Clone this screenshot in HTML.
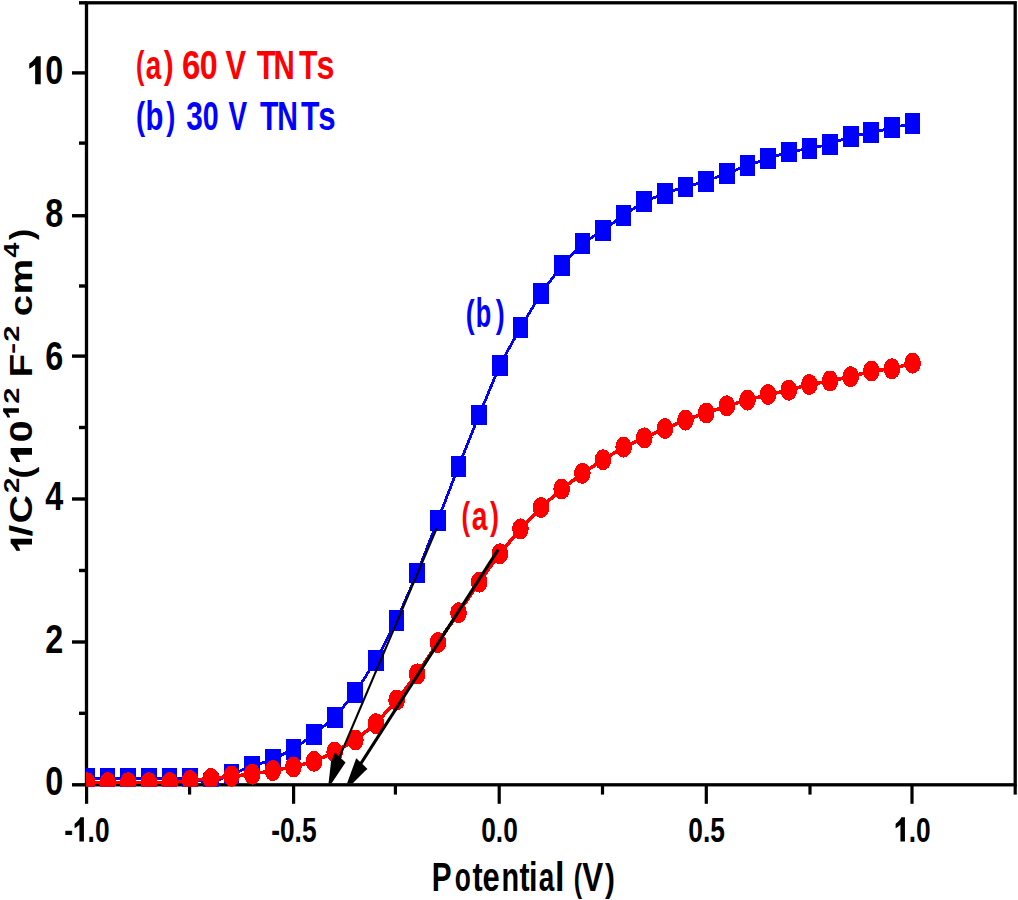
<!DOCTYPE html>
<html><head><meta charset="utf-8"><style>
html,body{margin:0;padding:0;background:#fff;}
body{width:1018px;height:900px;overflow:hidden;}
svg{display:block;}
</style></head><body>
<svg width="1018" height="900" viewBox="0 0 1018 900">
<rect width="1018" height="900" fill="#fff"/>
<g stroke="#000" fill="none">
<rect x="86.5" y="2.8" width="928.7" height="782.0" stroke-width="3.3"/>
<line x1="72.00" y1="784.80" x2="86.5" y2="784.80" stroke-width="3.4"/>
<line x1="79.00" y1="713.30" x2="86.5" y2="713.30" stroke-width="3.4"/>
<line x1="72.00" y1="642.00" x2="86.5" y2="642.00" stroke-width="3.4"/>
<line x1="79.00" y1="570.50" x2="86.5" y2="570.50" stroke-width="3.4"/>
<line x1="72.00" y1="499.00" x2="86.5" y2="499.00" stroke-width="3.4"/>
<line x1="79.00" y1="427.50" x2="86.5" y2="427.50" stroke-width="3.4"/>
<line x1="72.00" y1="356.10" x2="86.5" y2="356.10" stroke-width="3.4"/>
<line x1="79.00" y1="286.00" x2="86.5" y2="286.00" stroke-width="3.4"/>
<line x1="72.00" y1="215.75" x2="86.5" y2="215.75" stroke-width="3.4"/>
<line x1="79.00" y1="143.10" x2="86.5" y2="143.10" stroke-width="3.4"/>
<line x1="72.00" y1="72.90" x2="86.5" y2="72.90" stroke-width="3.4"/>
<line x1="79.00" y1="2.80" x2="86.5" y2="2.80" stroke-width="3.4"/>
<line x1="86.60" y1="784.8" x2="86.60" y2="803.80" stroke-width="3.2"/>
<line x1="189.60" y1="784.8" x2="189.60" y2="794.60" stroke-width="3.2"/>
<line x1="293.60" y1="784.8" x2="293.60" y2="803.80" stroke-width="3.2"/>
<line x1="395.40" y1="784.8" x2="395.40" y2="794.60" stroke-width="3.2"/>
<line x1="499.20" y1="784.8" x2="499.20" y2="803.80" stroke-width="3.2"/>
<line x1="602.50" y1="784.8" x2="602.50" y2="794.60" stroke-width="3.2"/>
<line x1="706.30" y1="784.8" x2="706.30" y2="803.80" stroke-width="3.2"/>
<line x1="810.00" y1="784.8" x2="810.00" y2="794.60" stroke-width="3.2"/>
<line x1="912.00" y1="784.8" x2="912.00" y2="803.80" stroke-width="3.2"/>
<line x1="1015.20" y1="784.8" x2="1015.20" y2="794.60" stroke-width="3.2"/>
</g>
<defs><clipPath id="pc"><rect x="86" y="0" width="930" height="786.8"/></clipPath></defs>
<g clip-path="url(#pc)" shape-rendering="crispEdges">
<polyline points="87.00,778.40 107.64,778.40 128.28,778.40 148.92,778.40 169.56,778.40 190.20,778.40 210.84,783.38 231.48,774.13 252.12,766.31 272.76,759.20 293.40,749.25 314.04,734.32 334.68,717.25 355.32,692.37 375.96,660.38 396.60,620.56 417.24,572.92 437.88,520.31 458.52,466.27 479.16,415.08 499.80,365.31 520.44,327.63 541.08,293.50 561.72,265.77 582.36,243.73 603.00,230.22 623.64,215.29 644.28,201.78 664.92,193.25 685.56,186.85 706.20,181.16 726.84,173.34 747.48,165.52 768.12,158.41 788.76,152.01 809.40,148.46 830.04,144.19 850.68,136.37 871.32,132.81 891.96,127.84 912.60,123.57" fill="none" stroke="#0000ff" stroke-width="2.8"/>
<rect x="79.15" y="768.05" width="15.7" height="20.7" fill="#0000ff"/>
<rect x="99.79" y="768.05" width="15.7" height="20.7" fill="#0000ff"/>
<rect x="120.43" y="768.05" width="15.7" height="20.7" fill="#0000ff"/>
<rect x="141.07" y="768.05" width="15.7" height="20.7" fill="#0000ff"/>
<rect x="161.71" y="768.05" width="15.7" height="20.7" fill="#0000ff"/>
<rect x="182.35" y="768.05" width="15.7" height="20.7" fill="#0000ff"/>
<rect x="202.99" y="773.03" width="15.7" height="20.7" fill="#0000ff"/>
<rect x="223.63" y="763.78" width="15.7" height="20.7" fill="#0000ff"/>
<rect x="244.27" y="755.96" width="15.7" height="20.7" fill="#0000ff"/>
<rect x="264.91" y="748.85" width="15.7" height="20.7" fill="#0000ff"/>
<rect x="285.55" y="738.90" width="15.7" height="20.7" fill="#0000ff"/>
<rect x="306.19" y="723.97" width="15.7" height="20.7" fill="#0000ff"/>
<rect x="326.83" y="706.90" width="15.7" height="20.7" fill="#0000ff"/>
<rect x="347.47" y="682.02" width="15.7" height="20.7" fill="#0000ff"/>
<rect x="368.11" y="650.02" width="15.7" height="20.7" fill="#0000ff"/>
<rect x="388.75" y="610.21" width="15.7" height="20.7" fill="#0000ff"/>
<rect x="409.39" y="562.57" width="15.7" height="20.7" fill="#0000ff"/>
<rect x="430.03" y="509.96" width="15.7" height="20.7" fill="#0000ff"/>
<rect x="450.67" y="455.92" width="15.7" height="20.7" fill="#0000ff"/>
<rect x="471.31" y="404.73" width="15.7" height="20.7" fill="#0000ff"/>
<rect x="491.95" y="354.96" width="15.7" height="20.7" fill="#0000ff"/>
<rect x="512.59" y="317.28" width="15.7" height="20.7" fill="#0000ff"/>
<rect x="533.23" y="283.15" width="15.7" height="20.7" fill="#0000ff"/>
<rect x="553.87" y="255.42" width="15.7" height="20.7" fill="#0000ff"/>
<rect x="574.51" y="233.38" width="15.7" height="20.7" fill="#0000ff"/>
<rect x="595.15" y="219.87" width="15.7" height="20.7" fill="#0000ff"/>
<rect x="615.79" y="204.94" width="15.7" height="20.7" fill="#0000ff"/>
<rect x="636.43" y="191.43" width="15.7" height="20.7" fill="#0000ff"/>
<rect x="657.07" y="182.90" width="15.7" height="20.7" fill="#0000ff"/>
<rect x="677.71" y="176.50" width="15.7" height="20.7" fill="#0000ff"/>
<rect x="698.35" y="170.81" width="15.7" height="20.7" fill="#0000ff"/>
<rect x="718.99" y="162.99" width="15.7" height="20.7" fill="#0000ff"/>
<rect x="739.63" y="155.17" width="15.7" height="20.7" fill="#0000ff"/>
<rect x="760.27" y="148.06" width="15.7" height="20.7" fill="#0000ff"/>
<rect x="780.91" y="141.66" width="15.7" height="20.7" fill="#0000ff"/>
<rect x="801.55" y="138.11" width="15.7" height="20.7" fill="#0000ff"/>
<rect x="822.19" y="133.84" width="15.7" height="20.7" fill="#0000ff"/>
<rect x="842.83" y="126.02" width="15.7" height="20.7" fill="#0000ff"/>
<rect x="863.47" y="122.46" width="15.7" height="20.7" fill="#0000ff"/>
<rect x="884.11" y="117.49" width="15.7" height="20.7" fill="#0000ff"/>
<rect x="904.75" y="113.22" width="15.7" height="20.7" fill="#0000ff"/>
<polyline points="87.00,782.67 107.64,782.67 128.28,782.67 148.92,782.67 169.56,782.67 190.20,780.53 210.84,778.40 231.48,776.27 252.12,774.13 272.76,770.58 293.40,767.02 314.04,761.34 334.68,752.09 355.32,740.01 375.96,723.65 396.60,700.19 417.24,673.88 437.88,642.60 458.52,612.74 479.16,582.16 499.80,553.72 520.44,528.84 541.08,507.51 561.72,489.02 582.36,473.38 603.00,459.87 623.64,447.07 644.28,437.83 664.92,428.59 685.56,420.06 706.20,412.95 726.84,405.84 747.48,400.15 768.12,394.46 788.76,390.19 809.40,384.51 830.04,380.95 850.68,376.69 871.32,371.00 891.96,368.87 912.60,363.18" fill="none" stroke="#ff0000" stroke-width="3.5"/>
<ellipse cx="87.00" cy="782.67" rx="8.3" ry="10.5" fill="#ff0000"/>
<ellipse cx="107.64" cy="782.67" rx="8.3" ry="10.5" fill="#ff0000"/>
<ellipse cx="128.28" cy="782.67" rx="8.3" ry="10.5" fill="#ff0000"/>
<ellipse cx="148.92" cy="782.67" rx="8.3" ry="10.5" fill="#ff0000"/>
<ellipse cx="169.56" cy="782.67" rx="8.3" ry="10.5" fill="#ff0000"/>
<ellipse cx="190.20" cy="780.53" rx="8.3" ry="10.5" fill="#ff0000"/>
<ellipse cx="210.84" cy="778.40" rx="8.3" ry="10.5" fill="#ff0000"/>
<ellipse cx="231.48" cy="776.27" rx="8.3" ry="10.5" fill="#ff0000"/>
<ellipse cx="252.12" cy="774.13" rx="8.3" ry="10.5" fill="#ff0000"/>
<ellipse cx="272.76" cy="770.58" rx="8.3" ry="10.5" fill="#ff0000"/>
<ellipse cx="293.40" cy="767.02" rx="8.3" ry="10.5" fill="#ff0000"/>
<ellipse cx="314.04" cy="761.34" rx="8.3" ry="10.5" fill="#ff0000"/>
<ellipse cx="334.68" cy="752.09" rx="8.3" ry="10.5" fill="#ff0000"/>
<ellipse cx="355.32" cy="740.01" rx="8.3" ry="10.5" fill="#ff0000"/>
<ellipse cx="375.96" cy="723.65" rx="8.3" ry="10.5" fill="#ff0000"/>
<ellipse cx="396.60" cy="700.19" rx="8.3" ry="10.5" fill="#ff0000"/>
<ellipse cx="417.24" cy="673.88" rx="8.3" ry="10.5" fill="#ff0000"/>
<ellipse cx="437.88" cy="642.60" rx="8.3" ry="10.5" fill="#ff0000"/>
<ellipse cx="458.52" cy="612.74" rx="8.3" ry="10.5" fill="#ff0000"/>
<ellipse cx="479.16" cy="582.16" rx="8.3" ry="10.5" fill="#ff0000"/>
<ellipse cx="499.80" cy="553.72" rx="8.3" ry="10.5" fill="#ff0000"/>
<ellipse cx="520.44" cy="528.84" rx="8.3" ry="10.5" fill="#ff0000"/>
<ellipse cx="541.08" cy="507.51" rx="8.3" ry="10.5" fill="#ff0000"/>
<ellipse cx="561.72" cy="489.02" rx="8.3" ry="10.5" fill="#ff0000"/>
<ellipse cx="582.36" cy="473.38" rx="8.3" ry="10.5" fill="#ff0000"/>
<ellipse cx="603.00" cy="459.87" rx="8.3" ry="10.5" fill="#ff0000"/>
<ellipse cx="623.64" cy="447.07" rx="8.3" ry="10.5" fill="#ff0000"/>
<ellipse cx="644.28" cy="437.83" rx="8.3" ry="10.5" fill="#ff0000"/>
<ellipse cx="664.92" cy="428.59" rx="8.3" ry="10.5" fill="#ff0000"/>
<ellipse cx="685.56" cy="420.06" rx="8.3" ry="10.5" fill="#ff0000"/>
<ellipse cx="706.20" cy="412.95" rx="8.3" ry="10.5" fill="#ff0000"/>
<ellipse cx="726.84" cy="405.84" rx="8.3" ry="10.5" fill="#ff0000"/>
<ellipse cx="747.48" cy="400.15" rx="8.3" ry="10.5" fill="#ff0000"/>
<ellipse cx="768.12" cy="394.46" rx="8.3" ry="10.5" fill="#ff0000"/>
<ellipse cx="788.76" cy="390.19" rx="8.3" ry="10.5" fill="#ff0000"/>
<ellipse cx="809.40" cy="384.51" rx="8.3" ry="10.5" fill="#ff0000"/>
<ellipse cx="830.04" cy="380.95" rx="8.3" ry="10.5" fill="#ff0000"/>
<ellipse cx="850.68" cy="376.69" rx="8.3" ry="10.5" fill="#ff0000"/>
<ellipse cx="871.32" cy="371.00" rx="8.3" ry="10.5" fill="#ff0000"/>
<ellipse cx="891.96" cy="368.87" rx="8.3" ry="10.5" fill="#ff0000"/>
<ellipse cx="912.60" cy="363.18" rx="8.3" ry="10.5" fill="#ff0000"/>
</g>
<line x1="436.8" y1="528.1" x2="334" y2="770" stroke="#000" stroke-width="2.1"/>
<polygon points="328.5,783.5 331.5,783.5 345.5,762.5 335,752.5 331,762" fill="#000"/>
<line x1="498.2" y1="549.6" x2="358" y2="768" stroke="#000" stroke-width="3.1"/>
<polygon points="347,783.5 352.5,783.5 364.5,771.5 367.5,769 364.5,766 356.2,758.3" fill="#000"/>
<g transform="translate(63.30,795.40) scale(1,1.2407) translate(-18.02,0)" fill="#000"><text x="0" y="0" font-size="32.40" font-family="Liberation Sans" font-weight="bold" style="font-kerning:none">0</text></g>
<g transform="translate(63.30,653.30) scale(1,1.2407) translate(-18.02,0)" fill="#000"><text x="0" y="0" font-size="32.40" font-family="Liberation Sans" font-weight="bold" style="font-kerning:none">2</text></g>
<g transform="translate(63.30,510.30) scale(1,1.2407) translate(-18.02,0)" fill="#000"><text x="0" y="0" font-size="32.40" font-family="Liberation Sans" font-weight="bold" style="font-kerning:none">4</text></g>
<g transform="translate(63.30,369.50) scale(1,1.2407) translate(-18.02,0)" fill="#000"><text x="0" y="0" font-size="32.40" font-family="Liberation Sans" font-weight="bold" style="font-kerning:none">6</text></g>
<g transform="translate(63.30,226.50) scale(1,1.2407) translate(-18.02,0)" fill="#000"><text x="0" y="0" font-size="32.40" font-family="Liberation Sans" font-weight="bold" style="font-kerning:none">8</text></g>
<g transform="translate(63.30,84.30) scale(1,1.2407) translate(-36.04,0)" fill="#000"><text x="0" y="0" font-size="32.40" font-family="Liberation Sans" font-weight="bold" style="font-kerning:none"> 0</text><path transform="translate(0.00,0) scale(0.01582,-0.01582)" d="M850 0H500V990Q320 850 125 790V1060Q245 1105 370 1215Q490 1320 580 1434H850Z"/></g>
<g transform="translate(86.90,841.50) scale(1,1.3118) translate(-22.66,0)" fill="#000"><text x="0" y="0" font-size="26.30" font-family="Liberation Sans" font-weight="bold" style="font-kerning:none">- .0</text><path transform="translate(8.76,0) scale(0.01284,-0.01284)" d="M850 0H500V990Q320 850 125 790V1060Q245 1105 370 1215Q490 1320 580 1434H850Z"/></g>
<g transform="translate(293.90,841.50) scale(1,1.3118) translate(-22.66,0)" fill="#000"><text x="0" y="0" font-size="26.30" font-family="Liberation Sans" font-weight="bold" style="font-kerning:none">-0.5</text></g>
<g transform="translate(499.50,841.50) scale(1,1.3118) translate(-18.28,0)" fill="#000"><text x="0" y="0" font-size="26.30" font-family="Liberation Sans" font-weight="bold" style="font-kerning:none">0.0</text></g>
<g transform="translate(706.60,841.50) scale(1,1.3118) translate(-18.28,0)" fill="#000"><text x="0" y="0" font-size="26.30" font-family="Liberation Sans" font-weight="bold" style="font-kerning:none">0.5</text></g>
<g transform="translate(912.30,841.50) scale(1,1.3118) translate(-18.28,0)" fill="#000"><text x="0" y="0" font-size="26.30" font-family="Liberation Sans" font-weight="bold" style="font-kerning:none"> .0</text><path transform="translate(0.00,0) scale(0.01284,-0.01284)" d="M850 0H500V990Q320 850 125 790V1060Q245 1105 370 1215Q490 1320 580 1434H850Z"/></g>
<g transform="translate(137.30,78.20) scale(1,1.5199) translate(-1.27,0)" fill="#ff0000"><text x="0" y="0" font-size="25.36" font-family="Liberation Sans" font-weight="bold" style="font-kerning:none">(</text></g><g transform="translate(146.70,78.70) scale(1,1.4752) translate(-0.83,0)" fill="#ff0000"><text x="0" y="0" font-size="27.79" font-family="Liberation Sans" font-weight="bold" style="font-kerning:none">a</text></g><g transform="translate(163.80,78.20) scale(1,1.3001) translate(-0.07,0)" fill="#ff0000"><text x="0" y="0" font-size="29.64" font-family="Liberation Sans" font-weight="bold" style="font-kerning:none">)</text></g><g transform="translate(183.30,78.70) scale(1,1.2442) translate(-1.24,0)" fill="#ff0000"><text x="0" y="0" font-size="32.95" font-family="Liberation Sans" font-weight="bold" style="font-kerning:none">6</text></g><g transform="translate(201.00,78.70) scale(1,1.2729) translate(-1.29,0)" fill="#ff0000"><text x="0" y="0" font-size="32.21" font-family="Liberation Sans" font-weight="bold" style="font-kerning:none">0</text></g><g transform="translate(225.70,78.70) scale(1,1.3310) translate(-0.23,0)" fill="#ff0000"><text x="0" y="0" font-size="30.80" font-family="Liberation Sans" font-weight="bold" style="font-kerning:none">V</text></g><g transform="translate(257.10,78.70) scale(1,1.3308) translate(-0.39,0)" fill="#ff0000"><text x="0" y="0" font-size="30.81" font-family="Liberation Sans" font-weight="bold" style="font-kerning:none">T</text></g><g transform="translate(275.60,78.70) scale(1,1.3923) translate(-1.99,0)" fill="#ff0000"><text x="0" y="0" font-size="29.45" font-family="Liberation Sans" font-weight="bold" style="font-kerning:none">N</text></g><g transform="translate(299.50,78.70) scale(1,1.3609) translate(-0.38,0)" fill="#ff0000"><text x="0" y="0" font-size="30.13" font-family="Liberation Sans" font-weight="bold" style="font-kerning:none">T</text></g><g transform="translate(317.60,78.70) scale(1,1.2697) translate(-1.13,0)" fill="#ff0000"><text x="0" y="0" font-size="32.29" font-family="Liberation Sans" font-weight="bold" style="font-kerning:none">s</text></g>
<g transform="translate(137.30,129.20) scale(1,1.4015) translate(-1.37,0)" fill="#0000ff"><text x="0" y="0" font-size="27.50" font-family="Liberation Sans" font-weight="bold" style="font-kerning:none">(</text></g><g transform="translate(147.30,129.70) scale(1,1.3990) translate(-1.90,0)" fill="#0000ff"><text x="0" y="0" font-size="29.31" font-family="Liberation Sans" font-weight="bold" style="font-kerning:none">b</text></g><g transform="translate(166.20,129.20) scale(1,1.4199) translate(-0.07,0)" fill="#0000ff"><text x="0" y="0" font-size="27.14" font-family="Liberation Sans" font-weight="bold" style="font-kerning:none">)</text></g><g transform="translate(186.80,129.70) scale(1,1.3782) translate(-0.67,0)" fill="#0000ff"><text x="0" y="0" font-size="29.75" font-family="Liberation Sans" font-weight="bold" style="font-kerning:none">3</text></g><g transform="translate(203.90,129.70) scale(1,1.4320) translate(-1.15,0)" fill="#0000ff"><text x="0" y="0" font-size="28.63" font-family="Liberation Sans" font-weight="bold" style="font-kerning:none">0</text></g><g transform="translate(228.70,129.70) scale(1,1.4699) translate(-0.21,0)" fill="#0000ff"><text x="0" y="0" font-size="27.89" font-family="Liberation Sans" font-weight="bold" style="font-kerning:none">V</text></g><g transform="translate(260.40,129.70) scale(1,1.3609) translate(-0.38,0)" fill="#0000ff"><text x="0" y="0" font-size="30.13" font-family="Liberation Sans" font-weight="bold" style="font-kerning:none">T</text></g><g transform="translate(279.20,129.70) scale(1,1.4338) translate(-1.93,0)" fill="#0000ff"><text x="0" y="0" font-size="28.60" font-family="Liberation Sans" font-weight="bold" style="font-kerning:none">N</text></g><g transform="translate(301.30,129.70) scale(1,1.3609) translate(-0.38,0)" fill="#0000ff"><text x="0" y="0" font-size="30.13" font-family="Liberation Sans" font-weight="bold" style="font-kerning:none">T</text></g><g transform="translate(319.40,129.70) scale(1,1.3120) translate(-1.09,0)" fill="#0000ff"><text x="0" y="0" font-size="31.25" font-family="Liberation Sans" font-weight="bold" style="font-kerning:none">s</text></g>
<g transform="translate(462.80,529.10) scale(1,1.4988) translate(-1.29,0)" fill="#ff0000"><text x="0" y="0" font-size="25.71" font-family="Liberation Sans" font-weight="bold" style="font-kerning:none">(</text></g><g transform="translate(472.50,529.60) scale(1,1.4555) translate(-0.85,0)" fill="#ff0000"><text x="0" y="0" font-size="28.17" font-family="Liberation Sans" font-weight="bold" style="font-kerning:none">a</text></g><g transform="translate(490.00,529.10) scale(1,1.4388) translate(-0.07,0)" fill="#ff0000"><text x="0" y="0" font-size="26.79" font-family="Liberation Sans" font-weight="bold" style="font-kerning:none">)</text></g>
<g transform="translate(467.20,326.80) scale(1,1.4388) translate(-1.34,0)" fill="#0000ff"><text x="0" y="0" font-size="26.79" font-family="Liberation Sans" font-weight="bold" style="font-kerning:none">(</text></g><g transform="translate(477.50,327.30) scale(1,1.6176) translate(-1.65,0)" fill="#0000ff"><text x="0" y="0" font-size="25.35" font-family="Liberation Sans" font-weight="bold" style="font-kerning:none">b</text></g><g transform="translate(495.80,326.80) scale(1,1.4388) translate(-0.07,0)" fill="#0000ff"><text x="0" y="0" font-size="26.79" font-family="Liberation Sans" font-weight="bold" style="font-kerning:none">)</text></g>
<g transform="translate(433.70,891.30) scale(1,1.3789) translate(-2.01,0)" fill="#000"><text x="0" y="0" font-size="29.73" font-family="Liberation Sans" font-weight="bold" style="font-kerning:none">P</text></g><g transform="translate(455.70,891.30) scale(1,1.5595) translate(-1.05,0)" fill="#000"><text x="0" y="0" font-size="26.29" font-family="Liberation Sans" font-weight="bold" style="font-kerning:none">o</text></g><g transform="translate(472.90,891.30) scale(1,1.3412) translate(-0.38,0)" fill="#000"><text x="0" y="0" font-size="30.57" font-family="Liberation Sans" font-weight="bold" style="font-kerning:none">t</text></g><g transform="translate(483.70,891.30) scale(1,1.3277) translate(-1.24,0)" fill="#000"><text x="0" y="0" font-size="30.88" font-family="Liberation Sans" font-weight="bold" style="font-kerning:none">e</text></g><g transform="translate(503.30,891.30) scale(1,1.4204) translate(-1.88,0)" fill="#000"><text x="0" y="0" font-size="28.87" font-family="Liberation Sans" font-weight="bold" style="font-kerning:none">n</text></g><g transform="translate(520.00,891.30) scale(1,1.3556) translate(-0.38,0)" fill="#000"><text x="0" y="0" font-size="30.24" font-family="Liberation Sans" font-weight="bold" style="font-kerning:none">t</text></g><g transform="translate(531.20,891.30) scale(1,1.3423) translate(-2.14,0)" fill="#000"><text x="0" y="0" font-size="30.55" font-family="Liberation Sans" font-weight="bold" style="font-kerning:none">i</text></g><g transform="translate(539.60,891.30) scale(1,1.4653) translate(-0.84,0)" fill="#000"><text x="0" y="0" font-size="27.98" font-family="Liberation Sans" font-weight="bold" style="font-kerning:none">a</text></g><g transform="translate(557.30,891.30) scale(1,1.1995) translate(-2.39,0)" fill="#000"><text x="0" y="0" font-size="34.18" font-family="Liberation Sans" font-weight="bold" style="font-kerning:none">l</text></g><g transform="translate(575.00,890.80) scale(1,1.5411) translate(-1.25,0)" fill="#000"><text x="0" y="0" font-size="25.01" font-family="Liberation Sans" font-weight="bold" style="font-kerning:none">(</text></g><g transform="translate(582.50,891.30) scale(1,1.3050) translate(-0.24,0)" fill="#000"><text x="0" y="0" font-size="31.42" font-family="Liberation Sans" font-weight="bold" style="font-kerning:none">V</text></g><g transform="translate(605.00,890.80) scale(1,1.3001) translate(-0.07,0)" fill="#000"><text x="0" y="0" font-size="29.64" font-family="Liberation Sans" font-weight="bold" style="font-kerning:none">)</text></g>
<g transform="translate(32.00,552.77) rotate(-90) scale(1.1114,1) translate(0.00,0)" fill="#000"><path transform="translate(0.00,0) scale(0.01489,-0.01489)" d="M850 0H500V990Q320 850 125 790V1060Q245 1105 370 1215Q490 1320 580 1434H850Z"/></g><g transform="translate(32.00,536.42) rotate(-90) scale(1.3624,1) translate(0.00,0)" fill="#000"><text x="0" y="0" font-size="30.50" font-family="Liberation Sans" font-weight="bold" style="font-kerning:none">/</text></g><g transform="translate(32.00,523.59) rotate(-90) scale(1.3015,1) translate(0.00,0)" fill="#000"><text x="0" y="0" font-size="30.50" font-family="Liberation Sans" font-weight="bold" style="font-kerning:none">C</text></g><g transform="translate(18.90,492.97) rotate(-90) scale(1.2315,1) translate(0.00,0)" fill="#000"><text x="0" y="0" font-size="22.50" font-family="Liberation Sans" font-weight="bold" style="font-kerning:none">2</text></g><g transform="translate(32.00,478.49) rotate(-90) scale(1.1710,1) translate(0.00,0)" fill="#000"><text x="0" y="0" font-size="30.50" font-family="Liberation Sans" font-weight="bold" style="font-kerning:none">(</text></g><g transform="translate(32.00,464.41) rotate(-90) scale(1.2966,1) translate(0.00,0)" fill="#000"><path transform="translate(0.00,0) scale(0.01489,-0.01489)" d="M850 0H500V990Q320 850 125 790V1060Q245 1105 370 1215Q490 1320 580 1434H850Z"/></g><g transform="translate(32.00,442.27) rotate(-90) scale(1.2908,1) translate(0.00,0)" fill="#000"><text x="0" y="0" font-size="30.50" font-family="Liberation Sans" font-weight="bold" style="font-kerning:none">0</text></g><g transform="translate(18.90,419.10) rotate(-90) scale(1.1676,1) translate(0.00,0)" fill="#000"><path transform="translate(0.00,0) scale(0.01099,-0.01099)" d="M850 0H500V990Q320 850 125 790V1060Q245 1105 370 1215Q490 1320 580 1434H850Z"/></g><g transform="translate(18.90,403.72) rotate(-90) scale(1.2963,1) translate(0.00,0)" fill="#000"><text x="0" y="0" font-size="22.50" font-family="Liberation Sans" font-weight="bold" style="font-kerning:none">2</text></g><g transform="translate(32.00,377.28) rotate(-90) scale(1.2533,1) translate(0.00,0)" fill="#000"><text x="0" y="0" font-size="30.50" font-family="Liberation Sans" font-weight="bold" style="font-kerning:none">F</text></g><g transform="translate(18.90,354.04) rotate(-90) scale(1.4933,1) translate(0.00,0)" fill="#000"><text x="0" y="0" font-size="22.50" font-family="Liberation Sans" font-weight="bold" style="font-kerning:none">-</text></g><g transform="translate(18.90,341.72) rotate(-90) scale(1.2963,1) translate(0.00,0)" fill="#000"><text x="0" y="0" font-size="22.50" font-family="Liberation Sans" font-weight="bold" style="font-kerning:none">2</text></g><g transform="translate(32.00,316.23) rotate(-90) scale(1.2577,1) translate(0.00,0)" fill="#000"><text x="0" y="0" font-size="30.50" font-family="Liberation Sans" font-weight="bold" style="font-kerning:none">c</text></g><g transform="translate(32.00,294.62) rotate(-90) scale(1.3201,1) translate(0.00,0)" fill="#000"><text x="0" y="0" font-size="30.50" font-family="Liberation Sans" font-weight="bold" style="font-kerning:none">m</text></g><g transform="translate(18.90,257.71) rotate(-90) scale(1.2129,1) translate(0.00,0)" fill="#000"><text x="0" y="0" font-size="22.50" font-family="Liberation Sans" font-weight="bold" style="font-kerning:none">4</text></g><g transform="translate(32.00,240.08) rotate(-90) scale(1.0890,1) translate(0.00,0)" fill="#000"><text x="0" y="0" font-size="30.50" font-family="Liberation Sans" font-weight="bold" style="font-kerning:none">)</text></g>
</svg>
</body></html>
